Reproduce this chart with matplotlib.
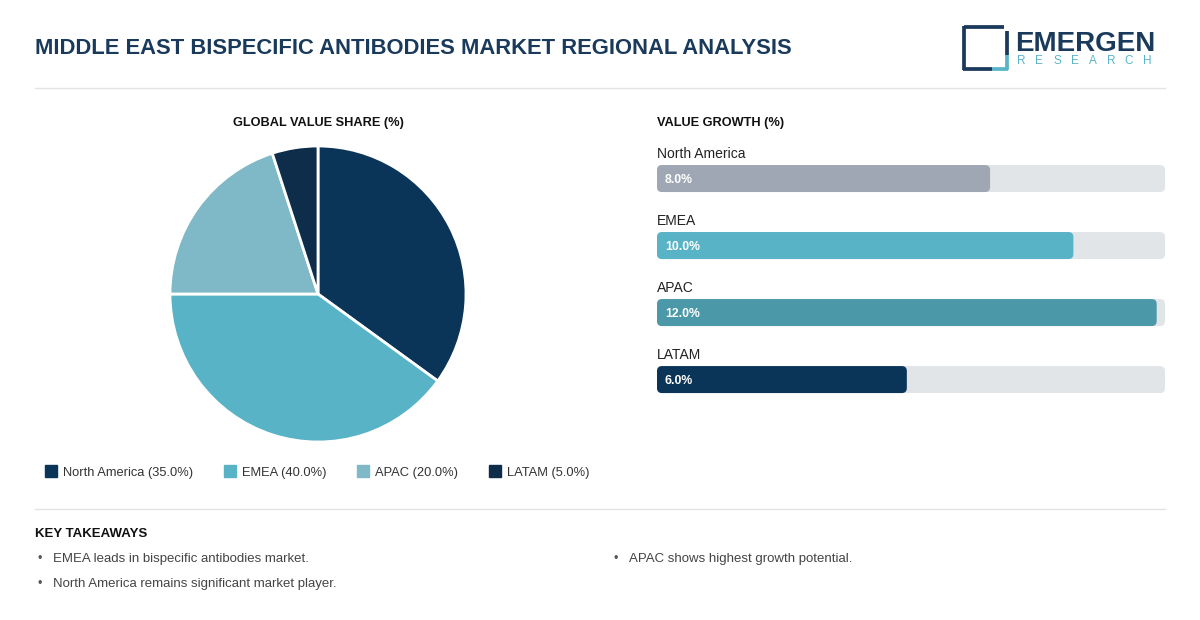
import matplotlib.pyplot as plt
from matplotlib.patches import Rectangle, FancyBboxPatch

plt.rcParams['font.family'] = ['Liberation Sans', 'DejaVu Sans']

# data
regions = ['North America', 'EMEA', 'APAC', 'LATAM']
share = [35.0, 40.0, 20.0, 5.0]
share_colors = ['#0b3558', '#58b3c6', '#7fb8c6', '#0d2d4a']
growth = [8.0, 10.0, 12.0, 6.0]
growth_colors = ['#9ea7b3', '#58b3c6', '#4a98a8', '#0b3558']
takeaways_left = ['EMEA leads in bispecific antibodies market.',
                  'North America remains significant market player.']
takeaways_right = ['APAC shows highest growth potential.']

W, H = 1200, 620
fig = plt.figure(figsize=(12, 6.2), dpi=100)
fig.patch.set_facecolor('white')

# background axes in pixel coordinates
bg = fig.add_axes([0, 0, 1, 1])
bg.set_xlim(0, W)
bg.set_ylim(H, 0)
bg.axis('off')

title_color = '#1a3a5c'
bg.text(35, 49, 'MIDDLE EAST BISPECIFIC ANTIBODIES MARKET REGIONAL ANALYSIS',
        fontsize=15.85, fontweight='bold', color=title_color, va='center')
bg.plot([35, 1165], [88, 88], color='#e3e3e3', lw=1)
bg.plot([35, 1165], [509, 509], color='#e3e3e3', lw=1)

# logo
navy, cyan = '#1a3a5c', '#5ab4c8'
lw = 2.7
bg.plot([964, 1004], [27, 27], color=navy, lw=lw, solid_capstyle='butt')
bg.plot([964, 964], [26, 70], color=navy, lw=lw, solid_capstyle='butt')
bg.plot([963, 992], [69, 69], color=navy, lw=lw, solid_capstyle='butt')
bg.plot([992, 1008], [69, 69], color=cyan, lw=lw, solid_capstyle='butt')
bg.plot([1007, 1007], [31, 55], color=navy, lw=lw, solid_capstyle='butt')
bg.plot([1007, 1007], [55, 70], color=cyan, lw=lw, solid_capstyle='butt')
bg.text(1015, 44, 'EMERGEN', fontsize=20, fontweight='bold', color=navy,
        va='center', ha='left')
for i, ch in enumerate('RESEARCH'):
    bg.text(1021 + i * 18.0, 61, ch, fontsize=8.5, color=cyan,
            va='center', ha='center')

# pie
bg.text(318, 123, 'GLOBAL VALUE SHARE (%)', fontsize=9.2, fontweight='bold',
        color='#111111', ha='center', va='center')
pax = fig.add_axes([170 / W, (H - 442) / H, 296 / W, 296 / H])
pax.pie(share, colors=share_colors, startangle=90, counterclock=False,
        wedgeprops=dict(edgecolor='white', linewidth=2))
pax.set_xlim(-1.0, 1.0)
pax.set_ylim(-1.0, 1.0)
pax.set_aspect('equal')
for w in pax.patches:
    w.set_clip_on(False)

legend_x = [45, 224, 357, 489]
for x, name, val, c in zip(legend_x, regions, share, share_colors):
    bg.add_patch(Rectangle((x, 465), 12, 12, color=c))
    bg.text(x + 18, 473, f'{name} ({val:.1f}%)', fontsize=9.3,
            color='#333333', va='center')

# bars
bg.text(657, 123, 'VALUE GROWTH (%)', fontsize=9.2, fontweight='bold',
        color='#111111', va='center')
bax = fig.add_axes([657 / W, (H - 400) / H, 508 / W, 260 / H])
bax.axis('off')
xmax = 12.2
bax.set_xlim(0, xmax)
bax.set_ylim(3.305, -0.575)
bh = 27 / 67
aspect = (508 / xmax) / 67
ypos = list(range(len(regions)))
for y, val, c, name in zip(ypos, growth, growth_colors, regions):
    bax.add_patch(FancyBboxPatch((0, y - bh / 2), xmax, bh,
                                 boxstyle='round,pad=0,rounding_size=0.12',
                                 mutation_aspect=aspect,
                                 fc='#e2e5e8', ec='none', clip_on=False))
    bax.add_patch(FancyBboxPatch((0, y - bh / 2), val, bh,
                                 boxstyle='round,pad=0,rounding_size=0.12',
                                 mutation_aspect=aspect,
                                 fc=c, ec='none', clip_on=False))
    bax.text(0.19, y + 0.02, f'{val:.1f}%', fontsize=8.8, fontweight='bold',
             color='white', va='center')
    bax.text(0, y - 0.37, name, fontsize=10, color='#222222', va='center')

# takeaways
bg.text(35, 534, 'KEY TAKEAWAYS', fontsize=9.5, fontweight='bold',
        color='#111111', va='center')
for i, t in enumerate(takeaways_left):
    bg.text(38, 559 + i * 25, '•', fontsize=9, color='#555555', va='center')
    bg.text(53, 559 + i * 25, t, fontsize=9.5, color='#444444', va='center')
for i, t in enumerate(takeaways_right):
    bg.text(614, 559 + i * 25, '•', fontsize=9, color='#555555', va='center')
    bg.text(629, 559 + i * 25, t, fontsize=9.5, color='#444444', va='center')

fig.savefig('out.png', dpi=100, facecolor='white')
